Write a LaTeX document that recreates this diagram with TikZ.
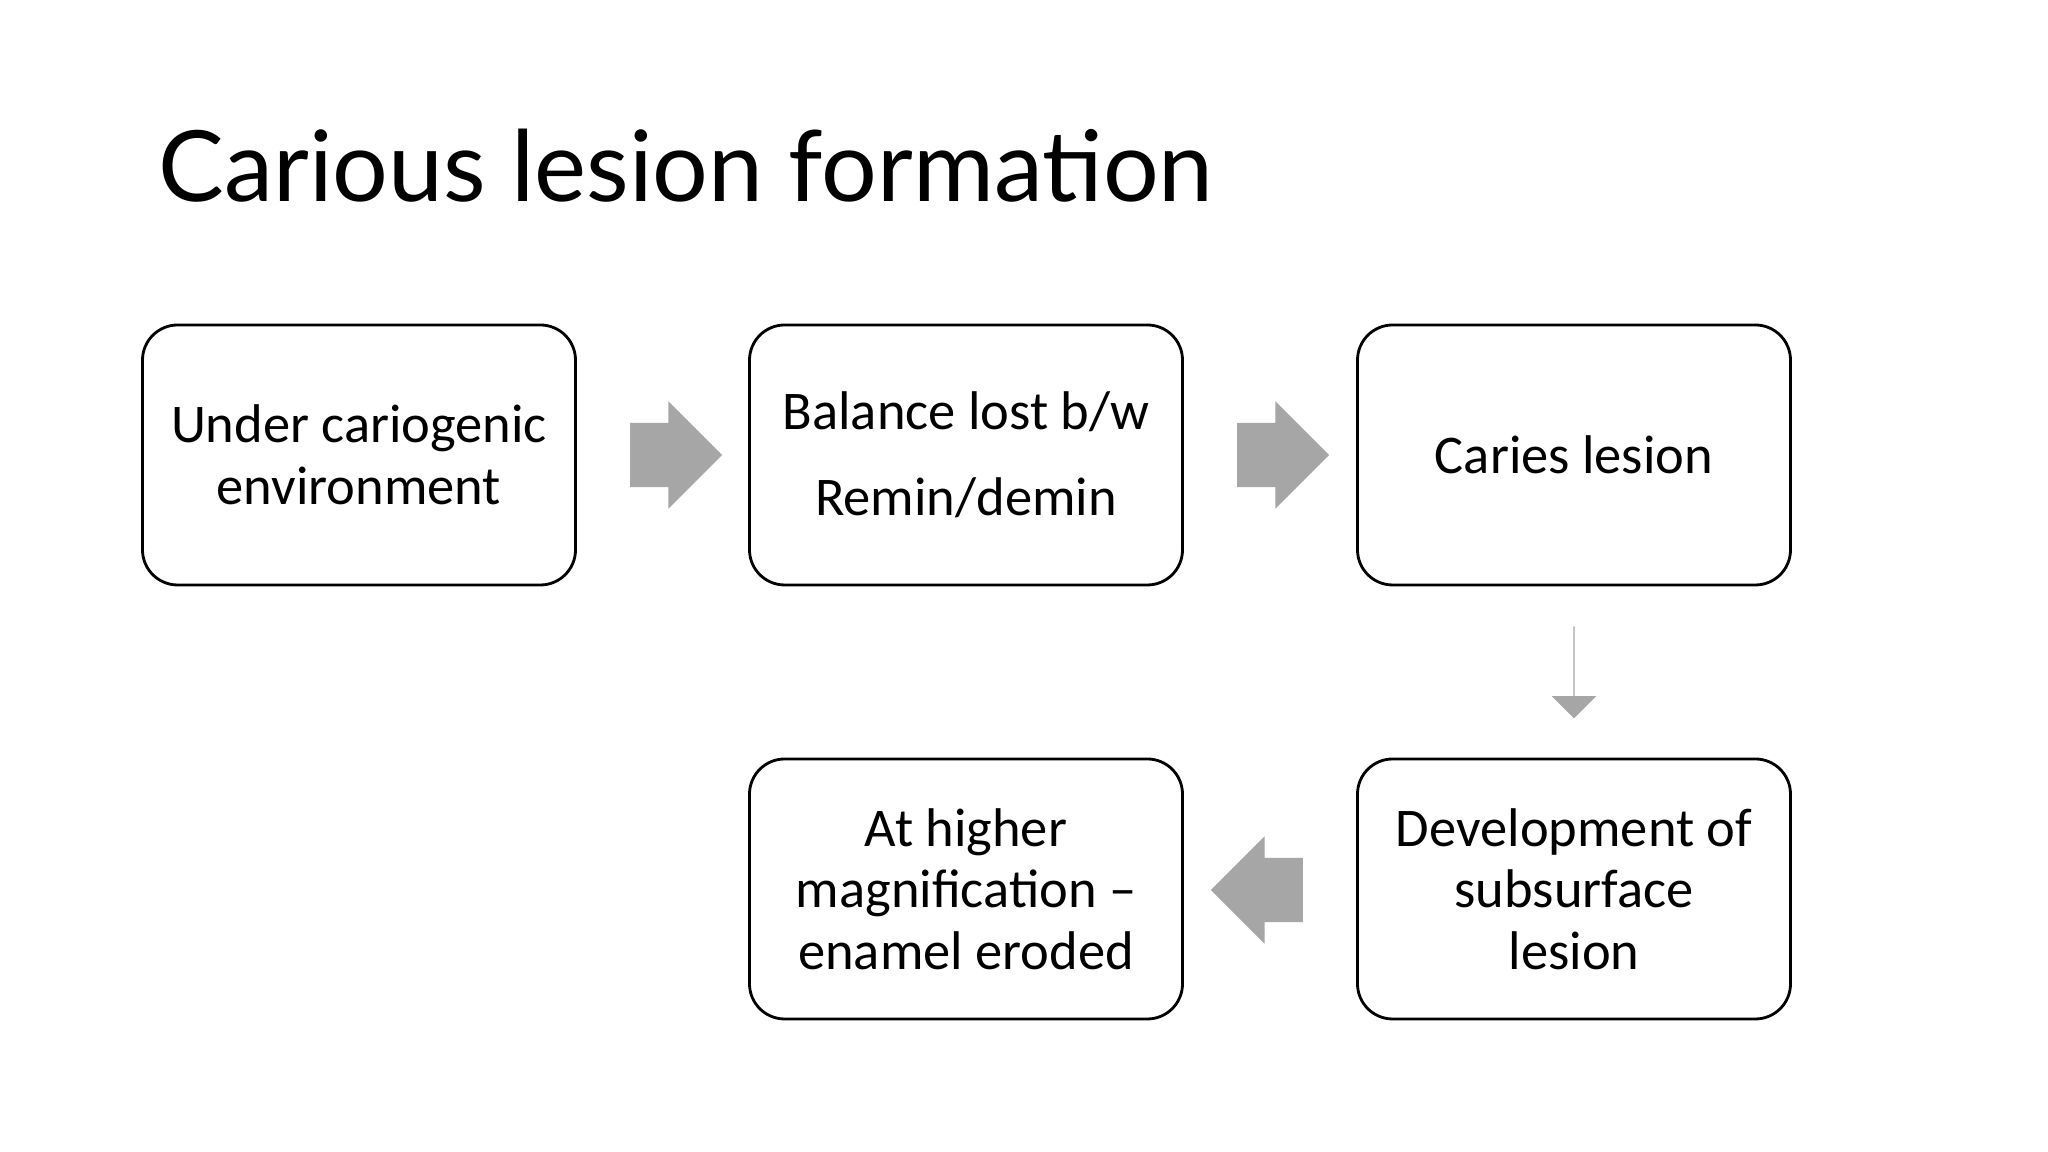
\documentclass[tikz,border=0pt]{standalone}
\usepackage{fontspec}
\setmainfont{Carlito}
\newfontfamily\titlefont{Lato}
\usetikzlibrary{shapes.arrows}
\definecolor{arrowgray}{HTML}{A6A6A6}
\tikzset{
  stepbox/.style={draw, rounded corners=10pt, line width=0.8pt, minimum width=4.33cm,
    minimum height=2.6cm, align=center, font=\fontsize{15.5}{17.5}\selectfont},
  blockarrow/.style={single arrow, fill=arrowgray, draw=none, minimum height=0.92cm,
    inner xsep=0pt, inner ysep=0.315cm, single arrow head extend=0.215cm,
    single arrow tip angle=90}
}
\begin{document}
\begin{tikzpicture}
  \useasboundingbox (0,0) rectangle (20.48,11.52);
  % title
  \node[anchor=base west, inner sep=0pt, font=\titlefont\fontsize{28}{34}\selectfont] (title) at (1.58,9.5) {Carious lesion formation};

  % boxes
  \node[stepbox] (under) at (3.59,6.97) {Under cariogenic\\environment};
  \node[stepbox, font=\fontsize{15.5}{24.5}\selectfont] (balance) at (9.66,6.97) {Balance lost b/w\\Remin/demin};
  \node[stepbox] (caries) at (15.74,6.97) {Caries lesion};
  \node[stepbox] (subsurf) at (15.74,2.63) {Development of\\subsurface\\lesion};
  \node[stepbox] (higher) at (9.66,2.63) {At higher\\magnification --\\enamel eroded};

  % arrows
  \node[blockarrow] (a1) at (6.6,6.97) {};
  \node[blockarrow] (a2) at (12.67,6.97) {};
  \node[blockarrow, shape border rotate=270] (a3) at (15.74,4.8) {};
  \node[blockarrow, shape border rotate=180] (a4) at (12.73,2.62) {};
\end{tikzpicture}
\end{document}
